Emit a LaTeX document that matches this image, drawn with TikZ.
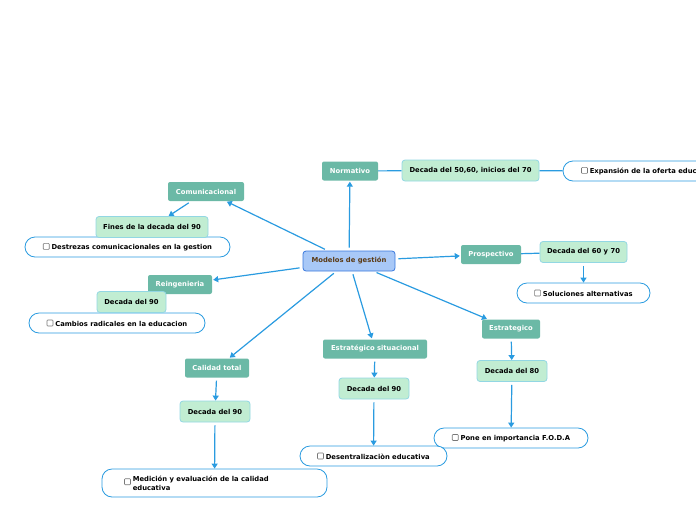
\documentclass[tikz,border=0pt]{standalone}
\usepackage{fontspec}
\setmainfont{DejaVu Sans}
\usetikzlibrary{arrows.meta,backgrounds}

\definecolor{linkblue}{RGB}{42,155,224}
\definecolor{centralfill}{RGB}{168,200,247}
\definecolor{centralborder}{RGB}{57,120,220}
\definecolor{centraltext}{RGB}{91,58,20}
\definecolor{topicfill}{RGB}{107,185,166}
\definecolor{subfill}{RGB}{193,237,210}
\definecolor{subborder}{RGB}{146,215,227}
\definecolor{boxgray}{RGB}{120,120,120}

\newcommand{\tickbox}{\tikz[baseline=0pt]\draw[boxgray,line width=0.6pt,rounded corners=0.8pt] (0pt,0pt) rectangle (6pt,6pt);\hspace{2pt}}

\begin{document}
\begin{tikzpicture}[x=1pt,y=-1pt,
  every node/.style={font=\fontsize{6.8}{9}\selectfont\bfseries, inner sep=0pt},
  central/.style={draw=centralborder, fill=centralfill, text=centraltext, rounded corners=3pt, minimum height=20pt, line width=0.8pt},
  topic/.style={fill=topicfill, text=white, rounded corners=2pt, minimum height=19pt},
  sub/.style={draw=subborder, fill=subfill, rounded corners=3pt, minimum height=21pt, line width=0.8pt},
  leaf/.style={draw=linkblue, fill=white, rounded corners=10pt, minimum height=20pt, line width=0.8pt},
  arr/.style={linkblue, line width=1.2pt, -{Triangle[length=5pt,width=6pt]}, shorten <=3pt},
  link/.style={linkblue, line width=1.2pt}]
\useasboundingbox (0,0) rectangle (696,520);

\node[central, minimum width=92] (mg) at (349,261) {Modelos de gestión};

\node[topic, minimum width=56] (norm) at (350,171) {Normativo};
\node[topic, minimum width=76] (comu) at (206,191.5) {Comunicacional};
\node[topic, minimum width=64] (reing) at (180,284.5) {Reingenieria};
\node[topic, minimum width=60] (prosp) at (491,254.5) {Prospectivo};
\node[topic, minimum width=58] (estra) at (511,329) {Estrategico};
\node[topic, minimum width=104] (estsit) at (375,349) {Estratégico situacional};
\node[topic, minimum width=64] (cal) at (217,368) {Calidad total};

\node[leaf, minimum width=171] (lnorm) at (648.5,171) {\tickbox Expansión de la oferta educativa};
\node[leaf, minimum width=205] (ldcomu) at (127.5,247) {\tickbox Destrezas comunicacionales en la gestion};
\node[leaf, minimum width=176] (ldreing) at (117,323) {\tickbox Cambios radicales en la educacion};
\node[leaf, minimum width=133] (ldprosp) at (583.5,293) {\tickbox Soluciones alternativas};
\node[leaf, minimum width=154] (ldestra) at (511,438) {\tickbox Pone en importancia F.O.D.A};
\node[leaf, minimum width=147] (ldestsit) at (373.5,456) {\tickbox Desentralizaciòn educativa};
\node[leaf, minimum width=225, minimum height=28] (ldcal) at (214.5,483) {\tickbox\parbox[c]{172pt}{Medición y evaluación de la calidad\\educativa}};

\node[sub, minimum width=137] (dnorm) at (470.5,170.5) {Decada del 50,60, inicios del 70};
\node[sub, minimum width=112] (dcomu) at (152,227) {Fines de la decada del 90};
\node[sub, minimum width=69] (dreing) at (131.5,302) {Decada del 90};
\node[sub, minimum width=87] (dprosp) at (583.5,252) {Decada del 60 y 70};
\node[sub, minimum width=70] (destra) at (512,371) {Decada del 80};
\node[sub, minimum width=70] (destsit) at (374,388.5) {Decada del 90};
\node[sub, minimum width=70] (dcal) at (215,411.5) {Decada del 90};

\begin{pgfonlayer}{background}
\draw[arr, shorten >=1pt] (mg) -- (norm);
\draw[arr, shorten >=1pt] (mg) -- (comu);
\draw[arr, shorten >=1pt] (mg) -- (reing);
\draw[arr, shorten >=1pt] (mg) -- (prosp);
\draw[arr, shorten >=1pt] (mg) -- (estra);
\draw[arr, shorten >=1pt] (mg) -- (estsit);
\draw[arr, shorten >=1pt] (mg) -- (cal);
\draw[link] (norm) -- (dnorm);
\draw[link] (dnorm) -- (lnorm);
\draw[link] (prosp) -- (dprosp);
\draw[link] (dcomu.center) -- (ldcomu.center);
\draw[link] (reing.center) -- (dreing.center);
\draw[link] (dreing.center) -- (ldreing.center);
\draw[arr] (comu) -- (dcomu);
\draw[arr] (dprosp) -- (ldprosp);
\draw[arr] (estra) -- (destra);
\draw[arr] (destra) -- (ldestra);
\draw[arr] (estsit) -- (destsit);
\draw[arr] (destsit) -- (ldestsit);
\draw[arr] (cal) -- (dcal);
\draw[arr] (dcal) -- (ldcal);
\end{pgfonlayer}
\end{tikzpicture}
\end{document}
